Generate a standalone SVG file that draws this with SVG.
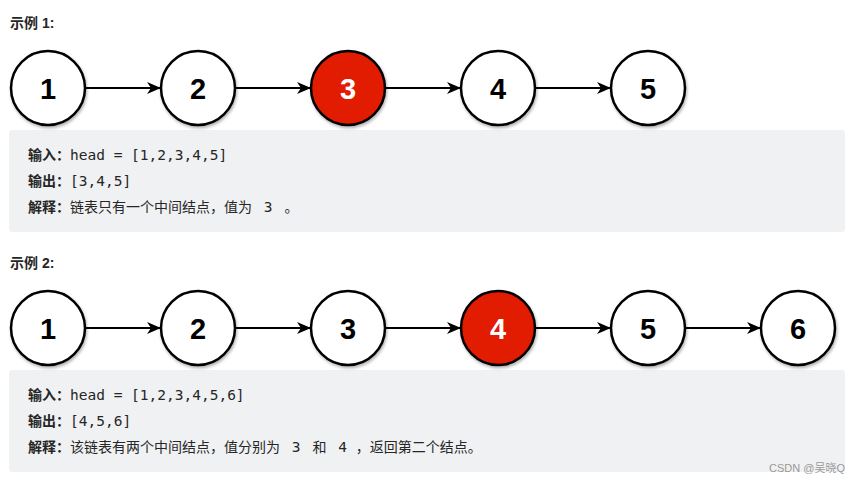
<svg xmlns="http://www.w3.org/2000/svg" width="858" height="484" viewBox="0 0 858 484">
<style>
.t{font-family:"Liberation Sans","Noto Sans CJK SC",sans-serif;font-weight:bold;font-size:14px;fill:#262626}
.c{fill:#fff;stroke:#000;stroke-width:2.5}
.r{fill:#e11a04}
.n{font-family:"Liberation Sans",sans-serif;font-weight:bold;font-size:29px;text-anchor:middle;fill:#000}
.w{fill:#fff}
.box{fill:#f0f1f3}
.b{font-family:"Noto Sans CJK SC",sans-serif;font-weight:bold;font-size:14px;fill:#262626}
.m{font-family:"DejaVu Sans Mono","Noto Sans CJK SC",monospace;font-size:14.5px;fill:#262626}
.s{font-family:"Noto Sans CJK SC",sans-serif;font-size:14px;fill:#262626}
.e{stroke:#000;stroke-width:2;fill:none;marker-end:url(#a)}
</style>
<defs>
<marker id="a" markerWidth="14" markerHeight="12" refX="13" refY="6" orient="auto" markerUnits="userSpaceOnUse"><path d="M0,0 L14,6 L0,12 L4,6 Z" fill="#000"/></marker>
<filter id="sh"><feDropShadow dx="1" dy="2" stdDeviation="1.5" flood-opacity="0.3"/></filter>
</defs>
<rect width="858" height="484" fill="#fff"/>
<text class="t" x="10" y="28">示例 1:</text>
<text class="t" x="10" y="268">示例 2:</text>
<rect class="box" x="9" y="130" width="836" height="102" rx="3"/>
<rect class="box" x="9" y="370" width="836" height="102" rx="3"/>
<g id="connectors">
<line class="e" x1="86" y1="88" x2="160" y2="88"/>
<line class="e" x1="236" y1="88" x2="310" y2="88"/>
<line class="e" x1="386" y1="88" x2="460" y2="88"/>
<line class="e" x1="536" y1="88" x2="610" y2="88"/>
<line class="e" x1="86" y1="328" x2="160" y2="328"/>
<line class="e" x1="236" y1="328" x2="310" y2="328"/>
<line class="e" x1="386" y1="328" x2="460" y2="328"/>
<line class="e" x1="536" y1="328" x2="610" y2="328"/>
<line class="e" x1="686" y1="328" x2="760" y2="328"/>
</g>
<g id="a1"><circle class="c" filter="url(#sh)" cx="48" cy="88" r="37"/><text class="n" x="48" y="99">1</text></g>
<g id="a2"><circle class="c" filter="url(#sh)" cx="198" cy="88" r="37"/><text class="n" x="198" y="99">2</text></g>
<g id="a3"><circle class="c r" filter="url(#sh)" cx="348" cy="88" r="37"/><text class="n w" x="348" y="99">3</text></g>
<g id="a4"><circle class="c" filter="url(#sh)" cx="498" cy="88" r="37"/><text class="n" x="498" y="99">4</text></g>
<g id="a5"><circle class="c" filter="url(#sh)" cx="648" cy="88" r="37"/><text class="n" x="648" y="99">5</text></g>
<g id="b1"><circle class="c" filter="url(#sh)" cx="48" cy="328" r="37"/><text class="n" x="48" y="339">1</text></g>
<g id="b2"><circle class="c" filter="url(#sh)" cx="198" cy="328" r="37"/><text class="n" x="198" y="339">2</text></g>
<g id="b3"><circle class="c" filter="url(#sh)" cx="348" cy="328" r="37"/><text class="n" x="348" y="339">3</text></g>
<g id="b4"><circle class="c r" filter="url(#sh)" cx="498" cy="328" r="37"/><text class="n w" x="498" y="339">4</text></g>
<g id="b5"><circle class="c" filter="url(#sh)" cx="648" cy="328" r="37"/><text class="n" x="648" y="339">5</text></g>
<g id="b6"><circle class="c" filter="url(#sh)" cx="798" cy="328" r="37"/><text class="n" x="798" y="339">6</text></g>
<text x="28" y="160"><tspan class="b">输入：</tspan><tspan class="m">head = [1,2,3,4,5]</tspan></text>
<text x="28" y="186"><tspan class="b">输出：</tspan><tspan class="m">[3,4,5]</tspan></text>
<text x="28" y="212" xml:space="preserve"><tspan class="b">解释：</tspan><tspan class="s">链表只有一个中间结点，值为 </tspan><tspan class="m"> 3 </tspan><tspan class="s"> 。</tspan></text>
<text x="28" y="400"><tspan class="b">输入：</tspan><tspan class="m">head = [1,2,3,4,5,6]</tspan></text>
<text x="28" y="426"><tspan class="b">输出：</tspan><tspan class="m">[4,5,6]</tspan></text>
<text x="28" y="452" xml:space="preserve"><tspan class="b">解释：</tspan><tspan class="s">该链表有两个中间结点，值分别为 </tspan><tspan class="m"> 3 </tspan><tspan class="s"> 和 </tspan><tspan class="m"> 4 </tspan><tspan class="s">，返回第二个结点。</tspan></text>
<text x="845" y="472" text-anchor="end" style="font-family:'Liberation Sans','Noto Sans CJK SC',sans-serif;font-size:11px;fill:#999">CSDN @吴晓Q</text>
</svg>
